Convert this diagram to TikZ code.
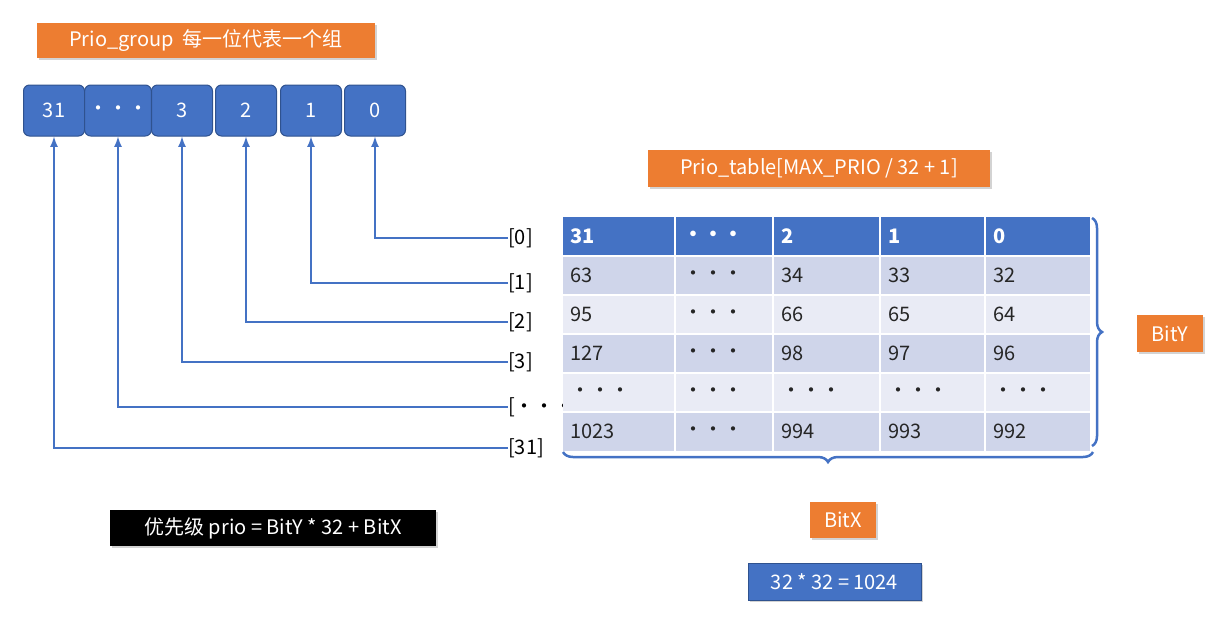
\documentclass[tikz,border=0pt]{standalone}
\usepackage{fontspec}
\setmainfont{Noto Sans CJK SC}
\usetikzlibrary{decorations.pathreplacing,shadows}
\definecolor{bl}{HTML}{4472C4}
\definecolor{bd}{HTML}{2F528F}
\definecolor{og}{HTML}{ED7D31}
\definecolor{ra}{HTML}{CFD5EA}
\definecolor{rb}{HTML}{E9EBF5}
\begin{document}
\begin{tikzpicture}[x=1pt,y=-1pt,
 lab/.style={inner sep=0,text=white,font=\fontsize{20}{24}\selectfont,drop shadow={shadow xshift=2pt,shadow yshift=-2pt,opacity=.35}},
 bx/.style={draw=bd,fill=bl,rounded corners=6pt,minimum width=61pt,minimum height=51pt,text=white,font=\fontsize{20}{24}\selectfont,line width=1pt},
 ln/.style={draw=bl,line width=2.5pt},
 arr/.style={ln,-latex},
 tx/.style={font=\fontsize{20}{24}\selectfont,anchor=west,inner sep=0},
 br/.style={draw=bl,line width=2.5pt,decorate,decoration={brace,amplitude=10pt}}]
\useasboundingbox (0,0) rectangle (1222,638);
\node[lab,fill=og,minimum width=338pt,minimum height=35pt] (pg) at (206,40.5) {Prio\_group\ \ 每一位代表一个组};
\foreach \x/\t/\n in {54/31/b31,118/···/bd,182/3/b3,246/2/b2,311/1/b1,375/0/b0}
  \node[bx] (\n) at (\x,110.5) {\t};
\foreach \n/\y/\t/\c in {b0/238/[0]/l0,b1/283/[1]/l1,b2/322/[2]/l2,b3/362/[3]/l3,bd/407/[···]/ld,b31/448/[31]/l31}{
  \node[tx] (\c) at (508,\y) {\t};
  \draw[arr] (\c.west) -| (\n.south);
}
\node[lab,fill=og,minimum width=342pt,minimum height=37pt] (pt) at (819,168.5) {Prio\_table[MAX\_PRIO / 32 + 1]};
% table
\fill[bl] (563,217) rectangle (1090,256);
\foreach \i/\c in {0/ra,1/rb,2/ra,3/rb,4/ra}
  \fill[\c] (563,256+39*\i) rectangle (1090,295+39*\i);
\foreach \y in {256,295,334,373,412} \draw[white,line width=1.5pt] (563,\y) -- (1090,\y);
\foreach \x in {675,773,880,985} \draw[white,line width=1.5pt] (\x,217) -- (\x,451);
\foreach \r/\a/\b/\c/\d/\e in {0/31/···/2/1/0}
  \foreach \x/\t in {570/\a,683/\b,781/\c,888/\d,993/\e}
    \node[tx,text=white,font=\fontsize{20}{24}\selectfont\bfseries] at (\x,236.5) {\t};
\foreach \r/\a/\b/\c/\d/\e in {1/63/···/34/33/32,2/95/···/66/65/64,3/127/···/98/97/96,4/···/···/···/···/···,5/1023/···/994/993/992}
  \foreach \x/\t in {570/\a,683/\b,781/\c,888/\d,993/\e}
    \node[tx,text=black!85] at (\x,236.5+39*\r) {\t};
\coordinate (t1) at (1092,218); \coordinate (t2) at (1092,446);
\draw[br] (t1) -- (t2);
\node[lab,fill=og,minimum width=66pt,minimum height=37pt] (by) at (1170,333.5) {BitY};
\coordinate (u1) at (1093,452); \coordinate (u2) at (563,452);
\draw[br] (u1) -- (u2);
\node[lab,fill=og,minimum width=66pt,minimum height=36pt] (bxn) at (843,520) {BitX};
\node[lab,fill=bl,draw=bd,minimum width=173pt,minimum height=37pt] (eq) at (834.5,581.5) {32 * 32 = 1024};
\node[lab,fill=black,minimum width=326pt,minimum height=36pt] (pr) at (273,528) {优先级 prio = BitY * 32 + BitX};
\end{tikzpicture}
\end{document}
